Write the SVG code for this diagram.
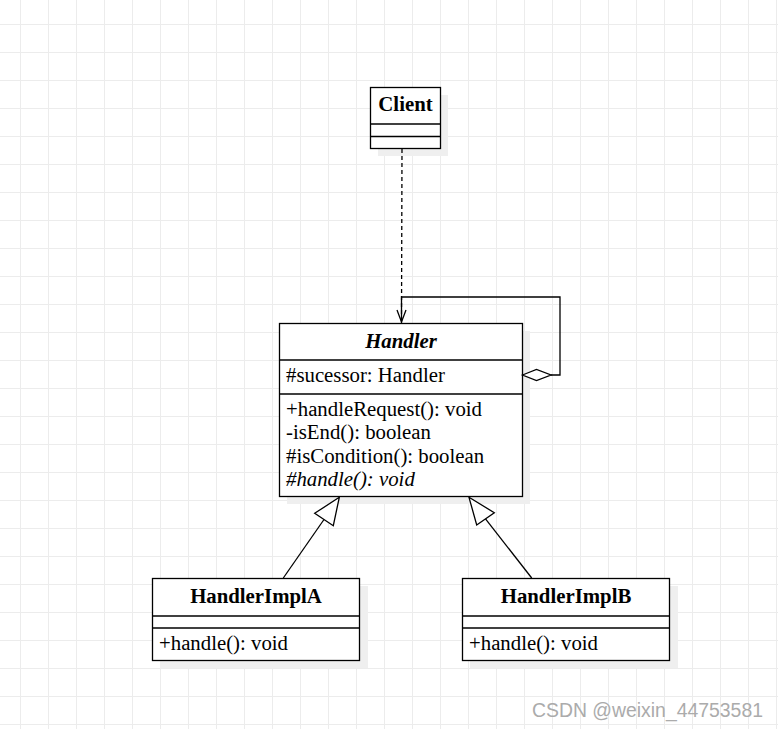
<svg xmlns="http://www.w3.org/2000/svg" width="778" height="729" viewBox="0 0 778 729">
  <style>
    .box { fill: #ffffff; stroke: #000000; stroke-width: 1.3; }
    .shadow { fill: #efefef; stroke: none; }
    .div { stroke: #000000; stroke-width: 1.3; fill: none; }
    .t { font-family: "Liberation Serif", "Times New Roman", serif; font-size: 20.8px; fill: #000000; }
    .b { font-weight: bold; }
    .i { font-style: italic; }
    .mid { text-anchor: middle; }
    .edge { stroke: #000000; stroke-width: 1.3; fill: none; }
    .dash { stroke-dasharray: 4 3; }
    .head { fill: #ffffff; stroke: #000000; stroke-width: 1.3; stroke-linejoin: miter; }
    .wm { font-family: "Liberation Sans", Arial, sans-serif; font-size: 19.4px; fill: #ababab; }
  </style>
  <defs>
    <pattern id="grid" x="20" y="24" width="28" height="28" patternUnits="userSpaceOnUse">
      <path d="M0.5,0 V28 M0,0.5 H28" stroke="#ececec" stroke-width="1" fill="none"/>
    </pattern>
  </defs>

  <rect x="0" y="0" width="778" height="729" fill="#ffffff"/>
  <rect x="0" y="0" width="778" height="729" fill="url(#grid)"/>

  <g id="Client">
    <rect class="shadow" x="378" y="95" width="70" height="61"/>
    <rect class="box" x="370.5" y="87.5" width="70" height="61"/>
    <line class="div" x1="370.5" y1="124" x2="440.5" y2="124"/>
    <line class="div" x1="370.5" y1="136.5" x2="440.5" y2="136.5"/>
    <text class="t b mid" x="405.5" y="111">Client</text>
  </g>

  <g id="Handler">
    <rect class="shadow" x="287" y="331" width="243" height="173"/>
    <rect class="box" x="279.5" y="323.5" width="243" height="173"/>
    <line class="div" x1="279.5" y1="360" x2="522.5" y2="360"/>
    <line class="div" x1="279.5" y1="394" x2="522.5" y2="394"/>
    <text class="t b i mid" x="401" y="348">Handler</text>
    <text class="t" x="286" y="382">#sucessor: Handler</text>
    <text class="t" x="286" y="416">+handleRequest(): void</text>
    <text class="t" x="286" y="439">-isEnd(): boolean</text>
    <text class="t" x="286" y="463">#isCondition(): boolean</text>
    <text class="t i" x="286" y="486">#handle(): void</text>
  </g>

  <g id="HandlerImplA">
    <rect class="shadow" x="160" y="586" width="208" height="82"/>
    <rect class="box" x="152.5" y="578.5" width="207" height="82"/>
    <line class="div" x1="152.5" y1="616" x2="359.5" y2="616"/>
    <line class="div" x1="152.5" y1="628" x2="359.5" y2="628"/>
    <text class="t b mid" x="256" y="603">HandlerImplA</text>
    <text class="t" x="159" y="650">+handle(): void</text>
  </g>

  <g id="HandlerImplB">
    <rect class="shadow" x="470" y="586" width="208" height="82"/>
    <rect class="box" x="462.5" y="578.5" width="207" height="82"/>
    <line class="div" x1="462.5" y1="616" x2="669.5" y2="616"/>
    <line class="div" x1="462.5" y1="628" x2="669.5" y2="628"/>
    <text class="t b mid" x="566" y="603">HandlerImplB</text>
    <text class="t" x="469" y="650">+handle(): void</text>
  </g>

  <g id="connectors">
    <line class="edge dash" x1="402" y1="149" x2="401.5" y2="321"/>
    <polyline class="edge" points="397,310 401.5,322 406,310"/>
    <polyline class="edge" points="401.5,323 401.5,297 560,297 560,375 551,375"/>
    <polygon class="head" points="522.5,375 536.5,369.5 551,375 536.5,380.5"/>
    <line class="edge" x1="283.3" y1="578" x2="324" y2="519.5"/>
    <polygon class="head" points="339.3,497.3 314.7,513.3 333.3,525.7"/>
    <line class="edge" x1="531.7" y1="578" x2="485.5" y2="518.8"/>
    <polygon class="head" points="469,497.3 494.3,512.7 476.7,525"/>
  </g>

  <text class="wm" x="532" y="717">CSDN @weixin_44753581</text>
</svg>
